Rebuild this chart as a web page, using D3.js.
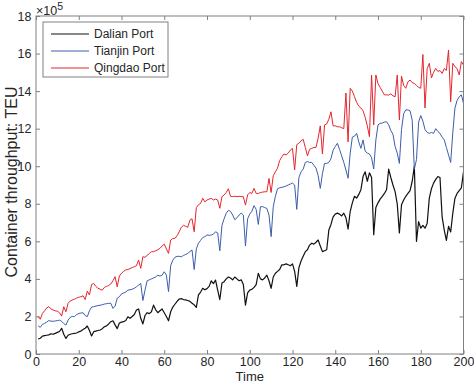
<!DOCTYPE html>
<html>
<head>
<meta charset="utf-8">
<script src="https://cdn.jsdelivr.net/npm/d3@7"></script>
<style>
  html, body { margin: 0; padding: 0; background: #fff; overflow: hidden; }
  svg { display: block; font-family: "Liberation Sans", Arial, Helvetica, sans-serif; }
</style>
</head>
<body>
<svg id="chart" width="474" height="384"></svg>
<script>
// values in units of 1e5 TEU, one per time step (t = 1..200)
const dalian = [
  0.80, 0.84, 0.95, 0.98, 1.00, 1.02, 1.08, 1.05, 1.10, 1.15, 1.20, 1.37,
  1.05, 0.83, 1.00, 1.05, 1.08, 1.10, 1.12, 1.18, 1.22, 1.30, 1.37, 1.49,
  1.25, 0.96, 1.19, 1.22, 1.25, 1.28, 1.35, 1.45, 1.50, 1.60, 1.72, 1.77,
  1.55, 1.35, 1.65, 1.70, 1.72, 1.78, 1.98, 1.90, 2.00, 2.10, 2.34, 2.40,
  1.90, 1.60, 2.05, 2.20, 2.15, 2.25, 2.60, 2.35, 2.20, 2.30, 2.40, 2.20,
  2.00, 1.77, 2.25, 2.50, 2.65, 2.80, 2.93, 2.95, 2.90, 2.88, 2.85, 2.80,
  2.70, 2.62, 2.48, 3.15, 3.30, 3.50, 3.42, 3.48, 3.60, 3.90, 3.75, 3.94,
  3.40, 2.90, 3.78, 3.85, 4.00, 4.10, 4.05, 3.95, 4.10, 4.00, 3.90, 3.95,
  3.70, 2.60, 3.25, 3.40, 3.45, 3.55, 3.70, 4.30, 4.00, 3.95, 4.05, 4.20,
  3.90, 3.50, 4.10, 4.30, 4.40, 4.50, 4.75, 4.75, 4.80, 4.75, 4.70, 4.80,
  4.40, 3.60, 4.60, 4.95, 5.20, 5.45, 5.55, 5.80, 5.90, 5.85, 5.95, 6.07,
  5.75, 5.45, 5.50, 5.55, 6.60, 6.90, 7.30, 7.45, 7.50, 7.45, 7.35, 7.50,
  7.25, 6.65, 7.60, 8.05, 8.40, 8.30, 8.50, 8.75, 9.45, 9.70, 9.20, 9.65,
  9.40, 6.35, 7.80, 8.05, 8.25, 8.40, 8.55, 8.75, 9.85, 9.40, 9.00, 8.65,
  8.00, 6.45, 7.95, 8.20, 8.40, 8.55, 8.70, 9.20, 10.00, 6.00, 7.05, 6.70,
  6.85, 6.70, 6.95, 8.30, 8.80, 9.10, 9.30, 9.45, 9.40, 7.30, 6.60, 6.05,
  6.80, 6.50, 7.50, 8.30, 8.55, 8.70, 8.85, 9.70
];

const tianjin = [
  1.50, 1.42, 1.58, 1.63, 1.70, 1.78, 1.75, 1.74, 1.76, 1.78, 1.80, 1.74,
  1.62, 1.54, 1.80, 1.95, 2.00, 1.99, 2.10, 2.16, 2.18, 2.20, 2.05, 1.99,
  2.30, 2.50, 2.52, 2.55, 2.58, 2.60, 2.62, 2.66, 2.68, 2.70, 2.70, 2.43,
  2.55, 2.97, 3.05, 3.20, 3.25, 3.30, 3.40, 3.42, 3.45, 3.50, 3.58, 3.67,
  3.76, 2.85, 3.40, 3.90, 3.95, 4.00, 4.05, 4.10, 4.20, 4.15, 4.20, 4.38,
  4.20, 3.32, 4.70, 5.00, 5.15, 5.20, 5.20, 5.18, 5.25, 5.30, 5.36, 5.45,
  5.54, 4.50, 5.60, 5.90, 6.05, 6.20, 6.25, 6.34, 6.32, 6.34, 6.38, 6.51,
  6.45, 5.50, 6.85, 7.20, 7.50, 7.65, 7.60, 7.40, 7.15, 7.25, 7.40, 7.50,
  7.40, 5.75, 7.20, 7.45, 7.60, 7.90, 7.70, 6.90, 7.84, 7.85, 7.80, 7.75,
  7.40, 6.25, 7.84, 8.40, 8.80, 8.85, 8.88, 8.90, 8.95, 9.00, 9.05, 9.10,
  9.00, 7.70, 9.40, 9.70, 9.85, 10.20, 10.25, 10.20, 10.20, 10.05, 9.90, 9.50,
  8.82, 9.60, 10.15, 10.15, 10.20, 10.40, 10.85, 11.05, 11.22, 10.90, 10.55, 10.20,
  9.80, 9.36, 10.70, 11.55, 11.60, 11.75, 11.30, 10.95, 11.40, 10.80, 10.70, 10.65,
  10.45, 9.85, 11.40, 12.20, 12.28, 12.30, 12.35, 12.37, 12.20, 11.90, 11.70, 11.05,
  10.70, 10.15, 11.95, 12.80, 13.00, 13.00, 12.95, 12.45, 9.85, 10.35, 12.35, 12.70,
  12.40, 11.95, 11.80, 11.75, 11.80, 11.75, 12.00, 11.85, 11.75, 11.55, 11.40, 11.00,
  10.60, 10.20, 11.80, 13.10, 13.50, 13.70, 13.80, 13.35
];

const qingdao = [
  2.00, 1.85, 2.16, 2.30, 2.45, 2.52, 2.40, 2.34, 2.30, 2.28, 2.20, 2.02,
  2.52, 2.25, 2.70, 2.82, 2.88, 2.92, 2.98, 3.02, 3.05, 3.10, 2.90, 3.35,
  3.14, 3.70, 3.76, 3.60, 3.50, 3.45, 3.40, 3.55, 3.60, 3.65, 3.73, 3.90,
  4.12, 3.58, 4.15, 4.30, 4.40, 4.48, 4.50, 4.55, 4.60, 4.65, 4.70, 5.00,
  4.56, 5.18, 5.15, 5.25, 5.35, 5.45, 5.45, 5.50, 5.55, 5.63, 5.75, 5.85,
  5.60, 5.36, 6.07, 6.15, 6.16, 6.30, 6.51, 6.75, 6.85, 6.80, 6.75, 7.13,
  7.20, 6.51, 7.80, 7.95, 8.02, 8.29, 8.10, 8.20, 8.25, 8.29, 8.20, 8.25,
  8.20, 7.76, 8.38, 8.47, 8.60, 8.80, 8.40, 8.38, 8.40, 8.38, 8.40, 8.38,
  8.38, 7.93, 8.47, 8.60, 8.55, 8.82, 8.55, 8.55, 8.60, 8.62, 8.64, 8.64,
  9.35, 8.60, 9.50, 9.70, 9.90, 10.30, 10.50, 10.65, 10.60, 10.70, 10.86, 10.95,
  9.80, 11.15, 11.22, 11.35, 11.43, 11.00, 10.55, 10.90, 10.95, 11.00, 11.00, 11.50,
  12.15, 10.65, 12.20, 12.25, 12.50, 12.90, 12.15, 12.15, 12.10, 12.10, 12.05, 12.00,
  13.90, 11.30, 14.15, 14.00, 13.70, 13.40, 13.20, 13.10, 12.95, 12.60, 12.15, 11.57,
  14.85, 12.20, 14.86, 14.40, 14.20, 14.00, 13.80, 13.80, 13.79, 13.85, 13.75, 13.70,
  14.86, 12.46, 14.80, 14.30, 14.15, 14.50, 14.59, 14.45, 14.41, 14.30, 14.20, 14.15,
  15.95, 13.10, 15.20, 15.48, 14.70, 15.00, 15.21, 15.05, 15.10, 14.94, 15.20, 15.10,
  16.19, 13.43, 15.48, 15.30, 15.20, 14.86, 15.57, 15.39
];

const seriesNames = ["Dalian Port", "Tianjin Port", "Qingdao Port"];
const seriesColors = ["#111111", "#3d5dac", "#e5262e"];
const seriesWidths = [1.2, 1, 1];
const xTicks = [0, 20, 40, 60, 80, 100, 120, 140, 160, 180, 200];
const yTicks = [0, 2, 4, 6, 8, 10, 12, 14, 16, 18];

const svg = d3.select("#chart");
const axisColor = "#262626";
const boxColor = "#808080";

const plot = { left: 36, right: 463.5, top: 16, bottom: 354 };

const x = d3.scaleLinear().domain([0, 200]).range([plot.left, plot.right]);
const y = d3.scaleLinear().domain([0, 18]).range([plot.bottom, plot.top]);

const styleAxis = (g) => {
  g.select(".domain").remove();
  g.selectAll(".tick line").attr("stroke", boxColor);
  g.selectAll(".tick text").attr("fill", axisColor).attr("font-size", "12.5px");
};

// ticks point inward on all four sides
svg.append("g")
  .attr("transform", `translate(0,${plot.bottom})`)
  .call(d3.axisBottom(x).tickValues(xTicks).tickSizeInner(-4).tickSizeOuter(0).tickPadding(3.5))
  .call(styleAxis);

svg.append("g")
  .attr("transform", `translate(0,${plot.top})`)
  .call(d3.axisTop(x).tickValues(xTicks).tickSizeInner(-4).tickSizeOuter(0).tickFormat(""))
  .call(styleAxis);

svg.append("g")
  .attr("transform", `translate(${plot.left},0)`)
  .call(d3.axisLeft(y).tickValues(yTicks).tickSizeInner(-4).tickSizeOuter(0).tickPadding(4.5))
  .call(styleAxis);

svg.append("g")
  .attr("transform", `translate(${plot.right},0)`)
  .call(d3.axisRight(y).tickValues(yTicks).tickSizeInner(-4).tickSizeOuter(0).tickFormat(""))
  .call(styleAxis);

const line = d3.line()
  .x((d, i) => x(i + 1))
  .y((d) => y(d));

const allSeries = [dalian, tianjin, qingdao];

svg.append("g")
  .selectAll("path")
  .data(allSeries)
  .join("path")
  .attr("d", line)
  .attr("fill", "none")
  .attr("stroke", (d, i) => seriesColors[i])
  .attr("stroke-width", (d, i) => seriesWidths[i])
  .attr("stroke-linejoin", "round");

svg.append("rect")
  .attr("x", plot.left)
  .attr("y", plot.top)
  .attr("width", plot.right - plot.left)
  .attr("height", plot.bottom - plot.top)
  .attr("fill", "none")
  .attr("stroke", boxColor)
  .attr("stroke-width", 1);

// exponent label above the y axis
const expo = svg.append("text")
  .attr("x", 36)
  .attr("y", 14.5)
  .attr("fill", axisColor)
  .attr("font-size", "12.5px");
expo.append("tspan").text("\u00d710");
expo.append("tspan").attr("dy", -4.5).attr("font-size", "10.5px").text("5");

svg.append("text")
  .attr("transform", "rotate(-90)")
  .attr("x", -(plot.top + plot.bottom) / 2 + 3)
  .attr("y", 17)
  .attr("text-anchor", "middle")
  .attr("fill", axisColor)
  .attr("font-size", "16px")
  .text("Container throughput: TEU");

svg.append("text")
  .attr("x", (plot.left + plot.right) / 2)
  .attr("y", 381)
  .attr("text-anchor", "middle")
  .attr("fill", axisColor)
  .attr("font-size", "13px")
  .text("Time");

// legend
const legend = svg.append("g");
legend.append("rect")
  .attr("x", 43)
  .attr("y", 22)
  .attr("width", 125)
  .attr("height", 55)
  .attr("fill", "#fff")
  .attr("stroke", boxColor)
  .attr("stroke-width", 1);

const items = legend.selectAll("g.item")
  .data(seriesNames)
  .join("g")
  .attr("class", "item")
  .attr("transform", (d, i) => `translate(0,${34 + i * 17})`);

items.append("line")
  .attr("x1", 51)
  .attr("x2", 89)
  .attr("stroke", (d, i) => seriesColors[i])
  .attr("stroke-width", (d, i) => seriesWidths[i]);

items.append("text")
  .attr("x", 94)
  .attr("dy", "0.35em")
  .attr("fill", axisColor)
  .attr("font-size", "12px")
  .text((d) => d);
</script>
</body>
</html>
